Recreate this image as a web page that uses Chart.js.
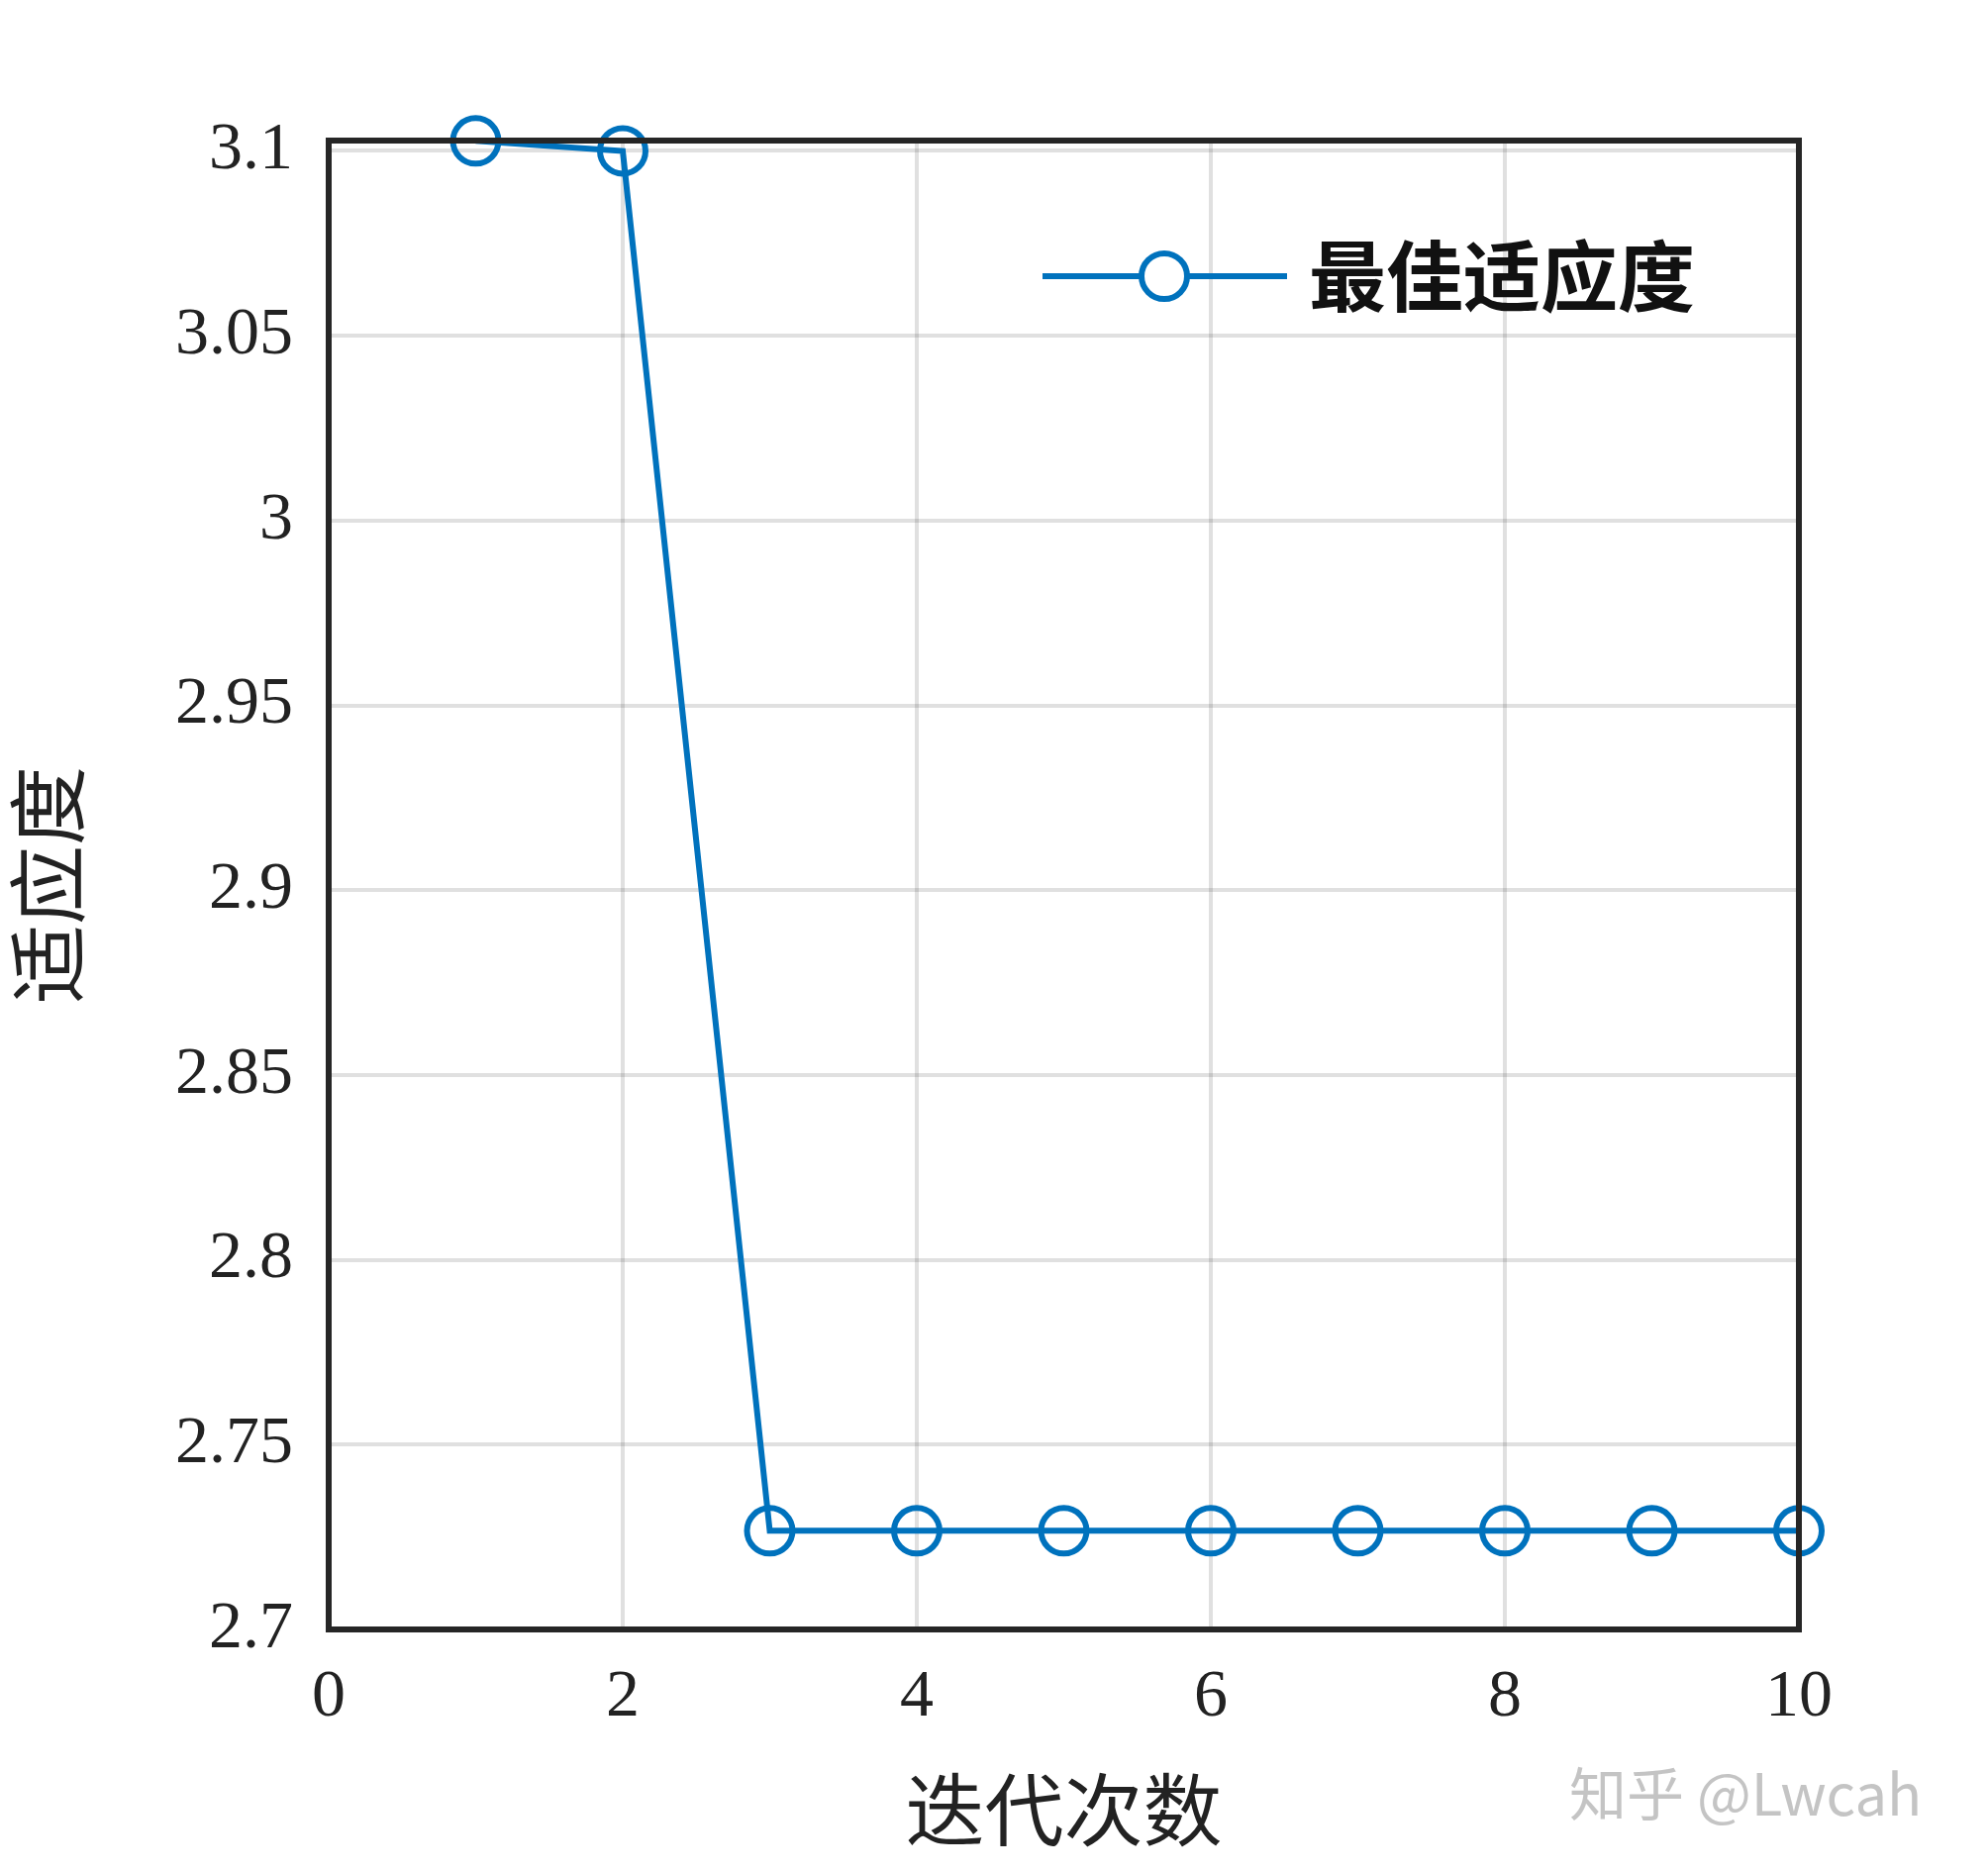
<!DOCTYPE html>
<html>
<head>
<meta charset="utf-8">
<script src="https://cdn.jsdelivr.net/npm/chart.js@4/dist/chart.umd.min.js"></script>
<style>
  html, body { margin: 0; padding: 0; background: #fff; }
  #wrap { width: 2008px; height: 1890px; }
</style>
</head>
<body>
<div id="wrap"><canvas id="fitChart" width="2008" height="1890"></canvas></div>
<script>
const iterations = [1, 2, 3, 4, 5, 6, 7, 8, 9, 10];
const bestFitness = [3.1027, 3.1, 2.7267, 2.7267, 2.7267, 2.7267, 2.7267, 2.7267, 2.7267, 2.7267];
const yTicks = [2.7, 2.75, 2.8, 2.85, 2.9, 2.95, 3, 3.05, 3.1];
const xTicks = [0, 2, 4, 6, 8, 10];
const seriesName = '最佳适应度';
const xTitle = '迭代次数';
const yTitle = '适应度';

const blue = '#0072BD';
const numFont = '"Liberation Serif", "DejaVu Serif", serif';
const cjkFont = '"Noto Sans CJK SC", sans-serif';

// frame, legend and watermark
const extras = {
    id: 'extras',
    afterDraw(chart) {
        const ctx = chart.ctx;
        const a = chart.chartArea;
        ctx.save();
        ctx.strokeStyle = '#262626';
        ctx.lineWidth = 6;
        ctx.strokeRect(a.left, a.top, a.right - a.left, a.bottom - a.top);

        // legend entry
        const ly = 279;
        ctx.strokeStyle = blue;
        ctx.lineWidth = 6;
        ctx.beginPath();
        ctx.moveTo(1053, ly); ctx.lineTo(1300, ly);
        ctx.stroke();
        ctx.beginPath();
        ctx.arc(1176, ly, 23, 0, Math.PI * 2);
        ctx.fillStyle = '#fff';
        ctx.fill();
        ctx.stroke();
        ctx.fillStyle = '#111';
        ctx.font = 'bold 78px ' + cjkFont;
        ctx.textBaseline = 'middle';
        ctx.fillText(seriesName, 1322, ly);

        // watermark
        ctx.fillStyle = 'rgba(190,190,190,0.9)';
        ctx.font = '58px ' + cjkFont;
        ctx.fillText('知乎 @Lwcah', 1585, 1812);
        ctx.restore();
    }
};

new Chart(document.getElementById('fitChart'), {
    type: 'line',
    data: {
        datasets: [{
            label: seriesName,
            data: iterations.map((x, i) => ({ x: x, y: bestFitness[i] })),
            borderColor: blue,
            borderWidth: 6,
            pointRadius: 23,
            pointBorderWidth: 6,
            pointBackgroundColor: 'rgba(0,0,0,0)',
            pointBorderColor: blue,
            tension: 0,
            clip: false
        }]
    },
    options: {
        responsive: false,
        animation: false,
        layout: { padding: { top: 142, right: 191, left: 0, bottom: 0 } },
        plugins: { legend: { display: false }, tooltip: { enabled: false } },
        scales: {
            x: {
                type: 'linear', min: 0, max: 10,
                afterBuildTicks: s => { s.ticks = xTicks.map(v => ({ value: v })); },
                afterFit: s => { s.height = 244; },
                grid: { color: 'rgba(0,0,0,0.12)', lineWidth: 4, drawTicks: false },
                border: { display: false },
                ticks: { color: '#222', font: { family: numFont, size: 68 }, padding: 28, maxRotation: 0 },
                title: { display: true, text: xTitle, color: '#222', font: { family: cjkFont, size: 80 }, padding: { top: 0, bottom: 14 } }
            },
            y: {
                type: 'linear', min: 2.7, max: 3.1028,
                afterBuildTicks: s => { s.ticks = yTicks.map(v => ({ value: v })); },
                afterFit: s => { s.width = 332; },
                grid: { color: 'rgba(0,0,0,0.12)', lineWidth: 4, drawTicks: false },
                border: { display: false },
                ticks: { color: '#222', font: { family: numFont, size: 68 }, padding: 36, callback: v => String(v) },
                title: { display: true, text: yTitle, color: '#222', font: { family: cjkFont, size: 80 }, padding: { top: 0, bottom: 0 } }
            }
        }
    },
    plugins: [extras]
});
</script>
</body>
</html>
